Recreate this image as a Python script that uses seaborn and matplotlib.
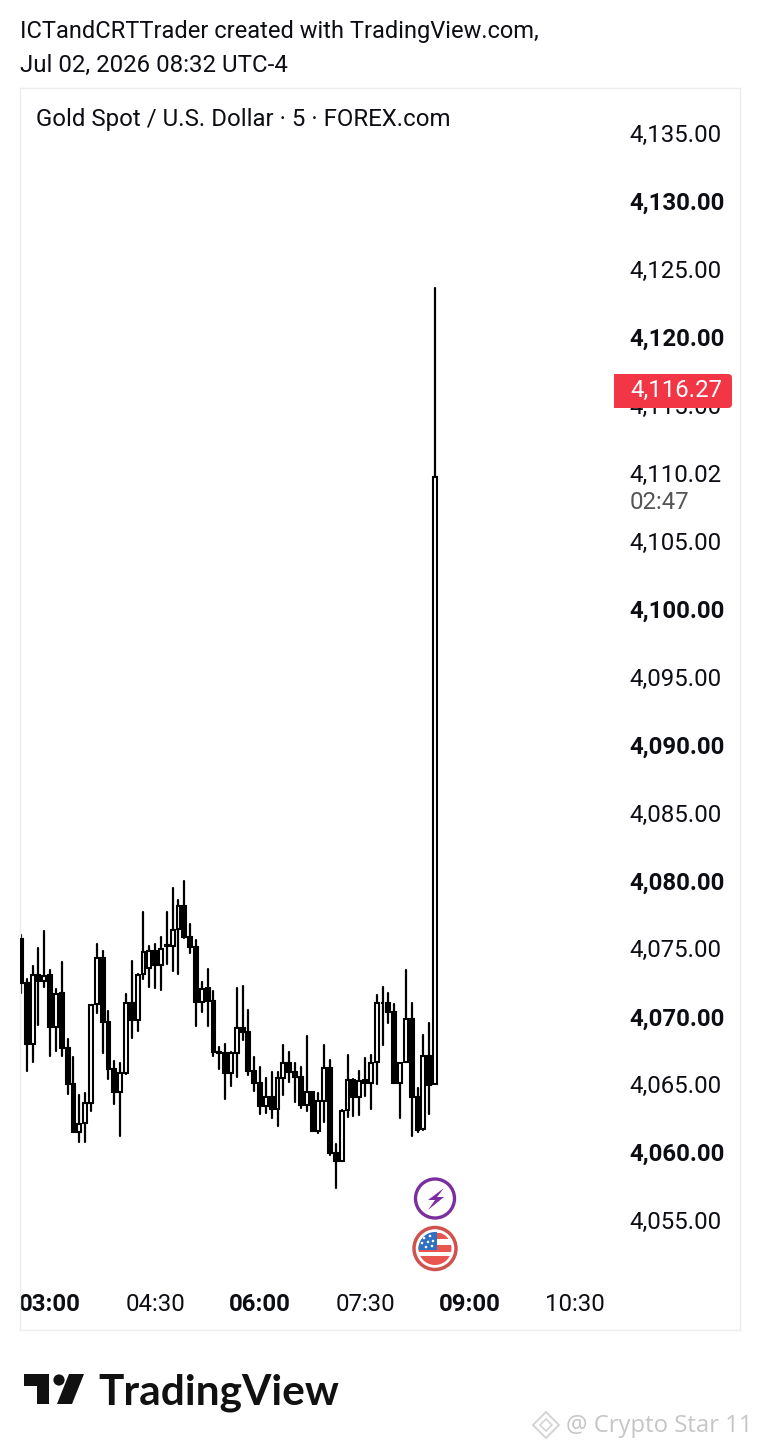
import numpy as np
import pandas as pd
import matplotlib.pyplot as plt
from matplotlib.patches import Circle, Polygon, FancyBboxPatch, Rectangle
import seaborn as sns

sns.set_theme(style="white")
plt.rcParams['font.family'] = ['Roboto', 'DejaVu Sans']

# 5 minute candles, prices (minus 4000)
base = 4000
opens = [75.69, 72.48, 67.97, 73.04, 72.60, 73.02, 69.19, 71.69, 67.65, 65.00, 61.47, 62.13,
         63.65, 70.89, 74.32, 69.56, 66.10, 64.41, 65.86, 71.01, 69.73, 73.09, 73.53, 74.81,
         73.78, 75.15, 75.18, 76.40, 78.15, 75.86, 75.08, 71.03, 72.06, 71.16, 67.40, 67.33,
         65.81, 67.33, 69.17, 68.88, 66.01, 65.12, 63.41, 64.04, 63.19, 65.44, 66.60, 65.93,
         65.52, 63.48, 64.46, 61.59, 63.80, 66.18, 59.97, 59.36, 63.11, 65.32, 64.04, 65.32,
         65.07, 66.67, 70.96, 70.96, 70.35, 65.07, 66.67, 69.81, 64.04, 61.69, 67.09, 65.03]
highs = [75.99, 72.72, 73.71, 75.00, 76.28, 73.41, 72.01, 74.02, 68.31, 66.99, 64.21, 64.34,
         70.84, 75.32, 74.81, 70.39, 66.71, 66.59, 71.65, 74.07, 73.09, 77.66, 75.18, 75.32,
         75.82, 77.66, 79.42, 78.56, 79.96, 76.80, 75.62, 72.50, 73.48, 71.89, 67.72, 67.97,
         67.40, 72.07, 72.24, 70.47, 66.99, 66.30, 65.44, 65.93, 65.93, 67.90, 67.40, 66.55,
         66.25, 68.56, 64.46, 64.34, 67.90, 66.79, 60.61, 63.11, 67.16, 65.37, 66.01, 66.91,
         67.16, 71.57, 72.14, 71.75, 70.91, 66.60, 73.41, 70.96, 64.71, 68.63, 69.49, 123.60]
lows = [71.74, 66.00, 66.67, 69.36, 72.19, 67.11, 67.48, 67.11, 64.29, 61.47, 60.73, 60.78,
        63.06, 70.22, 67.33, 65.37, 63.53, 61.22, 65.76, 68.43, 68.95, 72.72, 72.19, 72.11,
        71.94, 73.85, 73.36, 73.09, 75.79, 74.64, 69.32, 70.32, 69.32, 67.11, 66.13, 63.90,
        64.88, 65.57, 68.26, 65.69, 64.54, 62.82, 62.87, 62.50, 61.96, 64.22, 65.20, 63.73,
        63.24, 63.06, 61.59, 61.45, 62.25, 59.80, 57.35, 59.36, 62.62, 62.70, 62.74, 64.14,
        63.19, 65.03, 67.90, 69.54, 65.07, 62.50, 66.67, 61.22, 61.52, 61.64, 62.82, 65.03]
closes = [72.48, 67.97, 73.04, 72.60, 72.97, 69.19, 71.65, 67.65, 65.00, 61.47, 62.08, 63.60,
          70.84, 74.32, 69.56, 66.10, 64.41, 65.86, 71.01, 69.73, 73.04, 74.76, 74.81, 73.78,
          74.96, 75.23, 76.36, 78.15, 75.86, 75.08, 71.03, 72.01, 71.16, 67.40, 67.33, 65.81,
          67.33, 69.12, 68.88, 66.01, 65.12, 63.41, 64.04, 63.19, 65.44, 66.55, 65.93, 65.52,
          63.48, 64.46, 61.59, 63.77, 66.18, 59.97, 59.36, 63.06, 65.32, 64.04, 65.27, 65.07,
          66.60, 70.96, 71.01, 70.35, 65.07, 66.60, 69.81, 64.04, 61.64, 67.09, 64.96, 109.69]

price_ticks = [4055, 4060, 4065, 4070, 4075, 4080, 4085, 4090, 4095, 4100, 4105, 4110, 4115, 4120, 4125, 4130, 4135]
price_labels = ['4,055.00', '4,060.00', '4,065.00', '4,070.00', '4,075.00', '4,080.00', '4,085.00', '4,090.00',
                '4,095.00', '4,100.00', '4,105.00', '4,110.02', '4,115.00', '4,120.00', '4,125.00', '4,130.00', '4,135.00']
price_bold = [4060, 4070, 4080, 4090, 4100, 4120, 4130]
time_ticks = [5, 23, 41, 59, 77, 95]
time_labels = ['03:00', '04:30', '06:00', '07:30', '09:00', '10:30']
time_bold = ['03:00', '06:00', '09:00']

df = pd.DataFrame({'i': np.arange(len(opens)), 'open': opens, 'high': highs, 'low': lows, 'close': closes})
df[['open', 'high', 'low', 'close']] += base
df['bottom'] = df[['open', 'close']].min(axis=1)
df['height'] = (df['close'] - df['open']).abs()
wicks = df.melt(id_vars='i', value_vars=['low', 'high'], value_name='price')

W, H = 760, 1450
fig = plt.figure(figsize=(W / 100, H / 100), dpi=100, facecolor='white')
ax = fig.add_axes([20 / W, 1 - 1330 / H, 720 / W, 1242 / H])

# wicks then bodies
sns.lineplot(data=wicks, x='i', y='price', units='i', estimator=None, color='black', linewidth=1.6, ax=ax)
up = df[df['close'] >= df['open']]
dn = df[df['close'] < df['open']]
sns.barplot(data=up, x='i', y='height', bottom=up['bottom'].values, native_scale=True, errorbar=None, width=0.66,
            color='white', saturation=1, edgecolor='black', linewidth=1.5, zorder=3, ax=ax)
sns.barplot(data=dn, x='i', y='height', bottom=dn['bottom'].values, native_scale=True, errorbar=None, width=0.66,
            color='black', saturation=1, edgecolor='black', linewidth=1.5, zorder=3, ax=ax)

ax.set_xlim(-0.17, 123.3)
ax.set_ylim(4046.92, 4138.31)
ax.set_xlabel('')
ax.set_ylabel('')
ax.set_facecolor('white')
for s in ax.spines.values():
    s.set_color('#ededed')
    s.set_linewidth(1)

ink = '#0c0e14'
ax.yaxis.tick_right()
ax.set_yticks(price_ticks)
ax.set_yticklabels(price_labels)
ax.tick_params(axis='y', length=0, pad=-79.9, labelsize=17.25, labelcolor=ink)
for t, v in zip(ax.get_yticklabels(), price_ticks):
    t.set_ha('left')
    if v in price_bold:
        t.set_fontweight('bold')
ax.set_xticks(time_ticks)
ax.set_xticklabels(time_labels)
ax.tick_params(axis='x', length=0, pad=-26.6, labelsize=17.25, labelcolor=ink)
for t, s in zip(ax.get_xticklabels(), time_labels):
    if s in time_bold:
        t.set_fontweight('bold')

# overlay in picture pixels for header, tag, icons and logo
ov = fig.add_axes([0, 0, 1, 1], zorder=10)
ov.set_xlim(0, W)
ov.set_ylim(H, 0)
ov.axis('off')
ov.patch.set_alpha(0)

ov.text(20, 31.5, 'ICTandCRTTrader created with TradingView.com,', fontsize=17.05, color=ink, va='center')
ov.text(20, 65.5, 'Jul 02, 2026 08:32 UTC-4', fontsize=17.3, color=ink, va='center')
ov.text(36, 119.5, 'Gold Spot / U.S. Dollar · 5 · FOREX.com', fontsize=17.3, color=ink, va='center')
ov.text(630, 502.5, '02:47', fontsize=17.25, color='#555555', va='center')

ov.add_patch(FancyBboxPatch((616, 376), 114, 30, boxstyle='round,pad=2,rounding_size=4', fc='#f23645', ec='none'))
ov.add_patch(Rectangle((614, 374), 8, 34, fc='#f23645', ec='none'))
ov.text(630, 390, '4,116.27', fontsize=17.25, color='white', va='center')

# purple event icon
ov.add_patch(Circle((435, 1198.5), 19.5, fc='white', ec='#7b2f9e', lw=2.4))
ov.add_patch(Polygon([(444, 1188), (428, 1200), (435, 1200), (428, 1210), (444, 1197), (437, 1197)],
                     fc='#7b2f9e', ec='none'))

# US flag icon
ov.add_patch(Circle((435, 1248.5), 21, fc='white', ec='#d0524e', lw=2.5))
inner = Circle((435, 1248.5), 16.5, transform=ov.transData)
flag_parts = [Rectangle((437, 1233), 16, 6, fc='#e8564f', ec='none'),
              Rectangle((418, 1245), 35, 7, fc='#e8564f', ec='none'),
              Rectangle((418, 1256), 35, 9, fc='#e8564f', ec='none'),
              Rectangle((418, 1231), 19, 19, fc='#2f6fc4', ec='none')]
for part in flag_parts:
    ov.add_patch(part)
    part.set_clip_path(inner)
for dx, dy in [(424, 1238), (430, 1236), (422, 1243), (428, 1242), (433, 1241), (426, 1247), (432, 1246)]:
    ov.add_patch(Circle((dx, dy), 1.3, fc='white', ec='none'))

# TradingView logo
logo = '#111111'
ov.add_patch(Polygon([(24, 1374), (49, 1374), (49, 1404), (37, 1404), (37, 1386), (24, 1386)], fc=logo, ec='none'))
ov.add_patch(Circle((59, 1380), 5.6, fc=logo, ec='none'))
ov.add_patch(Polygon([(69, 1374), (84, 1374), (72, 1404), (57, 1404)], fc=logo, ec='none'))
ov.text(98, 1404, 'TradingView', fontsize=30.5, fontweight='bold', family=['Lato', 'DejaVu Sans'],
        color=logo, va='baseline')

# watermark
ov.text(566, 1425.5, '@ Crypto Star 11', fontsize=17.2, family=['Open Sans', 'DejaVu Sans'], color='#c6c6c6', va='center')
ov.add_patch(Polygon([(546, 1412), (559, 1425), (546, 1438), (533, 1425)], fc='none', ec='#d4d4d4', lw=1.4))
ov.add_patch(Polygon([(546, 1419), (552, 1425), (546, 1431), (540, 1425)], fc='none', ec='#d4d4d4', lw=1.2))

fig.savefig('out.png', dpi=100)
